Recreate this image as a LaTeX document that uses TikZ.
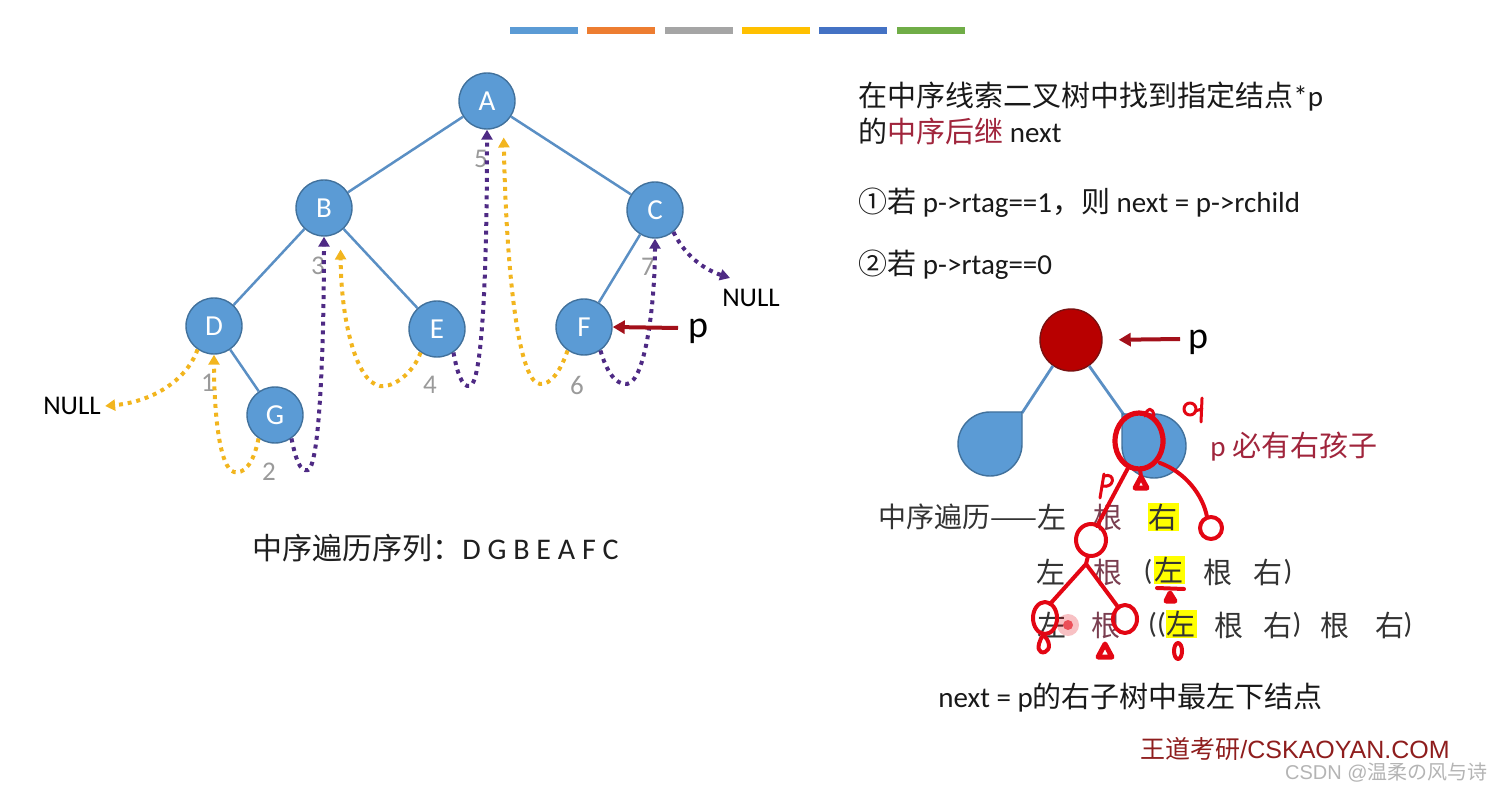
\documentclass[tikz,border=0pt]{standalone}
\usepackage{fontspec}
\setmainfont{Carlito}
\newfontfamily\cjk{Noto Sans CJK SC}
\newfontfamily\arialfont{Liberation Sans}
\usetikzlibrary{arrows.meta,calc}

\definecolor{nodeblue}{HTML}{5B9BD5}
\definecolor{nodeedge}{HTML}{41719C}
\definecolor{edgeblue}{HTML}{5A8FC4}
\definecolor{thryellow}{HTML}{F2B51E}
\definecolor{thrpurple}{HTML}{4E2A84}
\definecolor{numgray}{HTML}{9A9A9A}
\definecolor{darkred}{HTML}{A3101A}
\definecolor{pnodered}{HTML}{B80000}
\definecolor{pnodeedge}{HTML}{7A1010}
\definecolor{keyred}{HTML}{A0253C}
\definecolor{handred}{HTML}{E30613}
\definecolor{hlyellow}{HTML}{FFFF00}
\definecolor{txtgray}{HTML}{333333}
\definecolor{rootmauve}{HTML}{7A3E50}
\definecolor{logored}{HTML}{8E1D1D}
\definecolor{markgray}{HTML}{B4B4B4}
\definecolor{barblue}{HTML}{5B9BD5}
\definecolor{barorange}{HTML}{ED7D31}
\definecolor{bargray}{HTML}{A5A5A5}
\definecolor{baryellow}{HTML}{FFC000}
\definecolor{bardarkblue}{HTML}{4472C4}
\definecolor{bargreen}{HTML}{70AD47}

\newcommand{\fsz}[1]{\fontsize{#1}{#1}\selectfont}

\tikzset{
  tnode/.style={circle,draw=nodeedge,fill=nodeblue,line width=0.7pt,minimum size=28pt,inner sep=0pt,text=white,font=\fsz{14.5}},
  tedge/.style={draw=edgeblue,line width=1.25pt},
  thr/.style={line width=2pt,dash pattern=on 2pt off 2.4pt,-{Triangle[length=5pt,width=5.5pt]}},
  thrY/.style={thr,draw=thryellow},
  thrP/.style={thr,draw=thrpurple},
  num/.style={text=numgray,font=\fsz{13.5},inner sep=0pt},
  nullnode/.style={font=\fsz{13.5},inner sep=2pt},
  parrow/.style={draw=darkred,line width=2pt,-{Triangle[length=6pt,width=6.5pt]}},
  ptext/.style={font=\fsz{19},inner sep=0pt},
  txt/.style={anchor=west,inner sep=0pt,font=\fsz{14.5},text=black!90},
  ch/.style={inner sep=0.5pt,font=\cjk\fsz{14.5},text=txtgray},
  hl/.style={ch,fill=hlyellow},
  redge/.style={draw=edgeblue,line width=1.4pt},
  hand/.style={draw=handred,line width=2pt,line cap=round,line join=round},
}

\begin{document}
\begin{tikzpicture}[x=0.5pt,y=-0.5pt]
\useasboundingbox (0,0) rectangle (1502,790);

% colour bars under the title
\foreach \c [count=\i from 0] in {barblue,barorange,bargray,baryellow,bardarkblue,bargreen}
  \fill[\c] ({510+\i*77.3},27) rectangle ++(68,7);

% threaded tree
\node[tnode] (A) at (487,101) {A};
\node[tnode] (B) at (324,208) {B};
\node[tnode] (C) at (655,210) {C};
\node[tnode] (D) at (214,326) {D};
\node[tnode] (E) at (437,329) {E};
\node[tnode] (F) at (584,327) {F};
\node[tnode] (G) at (275,415) {G};
\draw[tedge] (A) -- (B) (A) -- (C) (B) -- (D) (B) -- (E) (C) -- (F) (D) -- (G);

\node[nullnode] (nullL) at (72,406) {NULL};
\node[nullnode] (nullR) at (751,298) {NULL};
\coordinate (nullTip) at (730,278);

\node[num] (n1) at (208,383) {1};
\node[num] (n2) at (269,472) {2};
\node[num] (n3) at (318,266) {3};
\node[num] (n4) at (430,385) {4};
\node[num] (n5) at (481,159) {5};
\node[num] (n6) at (577,385) {6};
\node[num] (n7) at (648,267) {7};

% threads
\draw[thrY] (D.235) .. controls (186,382) and (150,402) .. (nullL.east);
\draw[thrY] (G.235) .. controls (253,466) and (243,474) .. (234,472) .. controls (219,468) and (214,410) .. (D.south);
\draw[thrP] (G.-55) .. controls (296,460) and (300,472) .. (308,470) .. controls (321,465) and (324,320) .. (B.south);
\draw[thrY,shorten >=9pt] (E.235) .. controls (414,372) and (394,388) .. (380,386) .. controls (356,382) and (341,320) .. (B.-55);
\draw[thrP] (E.-55) .. controls (457,372) and (462,388) .. (470,386) .. controls (483,382) and (487,260) .. (A.south);
\draw[thrY,shorten >=6.5pt] (F.235) .. controls (561,370) and (551,385) .. (540,384) .. controls (517,382) and (506,260) .. (A.-55);
\draw[thrP] (F.-55) .. controls (606,370) and (615,385) .. (627,384) .. controls (646,381) and (655,300) .. (C.south);
\draw[thrP] (C.-50) .. controls (683,252) and (700,268) .. (nullTip);

% pointer p
\node[ptext] (ptr) at (698,331) {p};
\coordinate (ptrTail) at (678,328);
\draw[parrow] (ptrTail) -- (F.east);

\node[txt,font=\fsz{15},text=black!88] (inseq) at (252,548) {{\cjk 中序遍历序列：}D G B E A F C};

% right column
\node[txt] (q1) at (858,97) {{\cjk 在中序线索二叉树中找到指定结点}*p};
\node[txt] (q2) at (858,131) {{\cjk 的\textcolor{keyred}{中序后继}} next};
\node[txt] (c1) at (858,203) {{\cjk ①若} p->rtag==1{\cjk ，则} next = p->rchild};
\node[txt] (c2) at (858,265) {{\cjk ②若} p->rtag==0};

% p and its two subtrees
\node[circle,draw=pnodeedge,fill=pnodered,line width=0.7pt,minimum size=31pt,inner sep=0pt] (pnode) at (1071,340) {};
\coordinate (lcorner) at (1022,413);
\coordinate (rcorner) at (1124,415);
\draw[redge] (pnode.-125) -- (lcorner);
\draw[redge] (pnode.-55) -- (rcorner);
\filldraw[fill=nodeblue,draw=nodeedge,line width=0.7pt] (1022,412) -- (1022,444) arc[start angle=0,end angle=270,radius=32] -- cycle;
\filldraw[fill=nodeblue,draw=nodeedge,line width=0.7pt] (1122,414) -- (1154,414) arc[start angle=270,end angle=540,radius=32] -- cycle;
\node[ptext] (ptr2) at (1198,342) {p};
\coordinate (pTail) at (1180,339);
\draw[parrow,shorten >=8pt] (pTail) -- (pnode.east);
\node[txt,text=keyred] (must) at (1210,447) {p {\cjk 必有右孩子}};

% in-order rows
\node[ch,anchor=east,font=\cjk\fsz{14}] (ino) at (1039,517) {中序遍历——};
\node[ch] (l1) at (1052,517) {左};
\node[ch,text=rootmauve] (r1) at (1108,517) {根};
\node[hl] (h1) at (1163,517) {右};

\node[ch] (l2) at (1051,572) {左};
\node[ch,text=rootmauve] (r2) at (1108,572) {根};
\node[ch,font=\fsz{14.5}] (o2) at (1148,572) {(};
\node[hl] (h2) at (1169,570) {左};
\node[ch] (g2) at (1218,572) {根};
\node[ch] (y2) at (1268,572) {右};
\node[ch,font=\fsz{14.5}] (e2) at (1288,572) {)};

\node[ch] (l3) at (1052,625) {左};
\node[ch,text=rootmauve] (r3) at (1106,625) {根};
\node[ch,font=\fsz{14.5}] (o3) at (1157,625) {((};
\node[hl] (h3) at (1181,624) {左};
\node[ch] (g3) at (1229,625) {根};
\node[ch] (y3) at (1278,625) {右};
\node[ch,font=\fsz{14.5}] (e3) at (1297,625) {)};
\node[ch] (g4) at (1335,625) {根};
\node[ch] (y4) at (1390,625) {右};
\node[ch,font=\fsz{14.5}] (e4) at (1408,625) {)};

\node[txt] (res) at (938,698) {next = p{\cjk 的右子树中最左下结点}};

% hand-drawn marks
\draw[hand,line width=2.6pt] (1139,441) ellipse [x radius=24,y radius=28];
\draw[hand,line width=1.5pt] (1145,416) .. controls (1147,407) and (1153,407) .. (1154,416);
\draw[hand] (1140,469) -- (1141,477);
\draw[hand,line width=2.5pt] (1135,488) -- (1141,477) -- (1147,488) -- cycle;
\draw[hand,line width=1.5pt] (1104,474) -- (1100,498);
\draw[hand,line width=1.5pt] (1104,476) .. controls (1116,472) and (1115,489) .. (1102,486);
\draw[hand,line width=1.5pt] (1190,409) circle (6);
\draw[hand,line width=1.5pt] (1202,398) -- (1201,422) (1195,411) -- (1202,409);
\draw[hand] (1128,468) -- (1097,526);
\draw[hand] (1091,540) ellipse [x radius=15,y radius=16];
\draw[hand] (1088,556) -- (1086,564) -- (1050,604);
\draw[hand] (1086,564) -- (1118,607);
\draw[hand] (1045,618) ellipse [x radius=12,y radius=16];
\draw[hand] (1125,619) ellipse [x radius=12,y radius=14];
\draw[hand] (1043,635) .. controls (1035,648) and (1039,654) .. (1045,652) .. controls (1051,650) and (1050,640) .. (1043,635);
\draw[hand,line width=2.5pt] (1098,657) -- (1105,644) -- (1112,657) -- cycle;
\draw[hand] (1160,463) .. controls (1185,472) and (1203,495) .. (1207,517);
\draw[hand] (1211,528) circle (11);
\draw[hand] (1157,588) -- (1184,589);
\draw[hand,line width=2.5pt] (1166,601) -- (1170,593) -- (1175,601) -- cycle;
\draw[hand] (1178,651) ellipse [x radius=4,y radius=8];
\fill[handred,opacity=0.25] (1068,625) circle (11);
\fill[handred,opacity=0.6] (1068,625) circle (5);

% footer
\node[anchor=west,inner sep=0pt,text=logored,font=\fsz{12.5}] (logo) at (1140,749) {{\cjk 王道考研}{\arialfont /CSKAOYAN.COM}};
\node[anchor=east,inner sep=0pt,text=markgray,font=\fsz{10}] (csdn) at (1488,773) {{\arialfont CSDN @}{\cjk 温柔の风与诗}};
\end{tikzpicture}
\end{document}
